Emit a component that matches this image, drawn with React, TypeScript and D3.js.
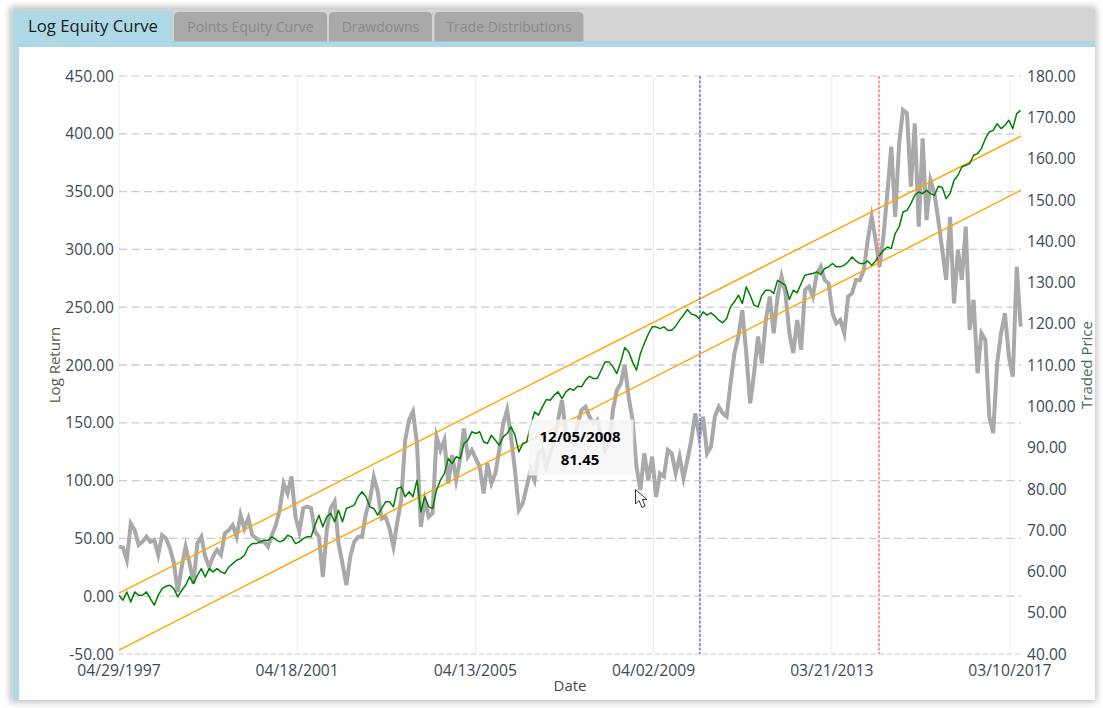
import React from "react";
import * as d3 from "d3";

const tradeStep = 22;
const tickTrades = [0, 1000, 2000, 3000, 4000, 5000];
const dateLabels = ["04/29/1997", "04/18/2001", "04/13/2005", "04/02/2009", "03/21/2013", "03/10/2017"];
const logTicks = [-50, 0, 50, 100, 150, 200, 250, 300, 350, 400, 450];
const priceTicks = [40, 50, 60, 70, 80, 90, 100, 110, 120, 130, 140, 150, 160, 170, 180];
const tabs = ["Log Equity Curve", "Points Equity Curve", "Drawdowns", "Trade Distributions"];

const tradedPrice = [
  66.0, 65.8, 62.8, 71.6, 70.0, 66.4, 67.2, 68.4, 67.2, 67.6, 64.0, 68.8, 68.0, 65.6, 62.0, 55.1, 61.1, 66.0, 62.0, 57.1,
  66.8, 68.4, 63.6, 61.1, 63.6, 65.2, 64.0, 69.2, 70.0, 71.2, 68.4, 73.7, 70.4, 72.9, 68.8, 68.0, 67.2, 67.2, 66.0, 68.8,
  71.2, 74.9, 81.3, 78.9, 83.0, 73.3, 69.6, 75.3,
  75.7, 75.3, 69.6, 68.4, 58.7, 70.0, 75.3, 76.9, 66.8, 61.9, 56.7, 63.6, 67.2, 68.4, 68.4, 74.1, 77.3, 82.9, 79.3, 72.8,
  73.2, 70.4, 66.0, 72.0, 77.3, 91.8, 96.7, 98.7, 91.0, 70.8, 77.3, 73.2, 74.1, 92.6, 89.4, 91.8, 81.3, 88.2, 82.1, 87.0,
  94.6, 87.8, 89.4, 87.4, 85.4, 78.9, 86.2,
  81.3, 83.7, 89.4, 95.8, 99.1, 92.6, 84.5, 74.9, 76.5, 80.5, 84.5, 82.1, 88.6, 89.4, 85.4, 88.6, 91.8, 96.7, 101.5, 93.4,
  91.8, 91.0, 95.8, 99.1, 99.9, 97.5, 95.8, 96.7, 92.6, 89.4, 91.0, 99.1, 103.9, 105.5, 110.0, 102.3, 96.7, 85.4, 79.7, 88.6,
  82.1, 87.8, 78.1, 83.7, 83.0, 89.4,
  88.6, 83.8, 87.8, 82.6, 87.0, 91.9, 98.3, 92.7, 97.5, 88.6, 90.2, 97.5, 99.9, 98.3, 97.5, 105.6, 112.9, 116.9, 123.3, 112.9,
  100.7, 108.0, 116.9, 110.4, 120.9, 126.6, 117.7, 126.6, 131.4, 127.4, 117.7, 112.9, 120.9, 113.7, 128.2, 129.0, 126.6, 132.2, 133.8, 130.6,
  129.8, 122.5, 120.1, 120.9, 117.7, 126.6,
  127.4, 130.6, 130.6, 133.0, 140.3, 145.9, 140.3, 133.8, 141.1, 151.6, 162.9, 145.9, 163.7, 171.8, 171.0, 153.2, 168.5, 143.5, 164.9, 145.1,
  154.8, 151.6, 145.1, 137.9, 130.6, 145.9, 124.9, 137.9, 130.6, 143.5, 118.5, 125.8, 108.0, 117.7, 116.1, 97.5, 93.5, 110.4, 117.7, 122.5,
  112.0, 107.2, 133.8, 119.3,
];

const logReturn = [
  0.8, -3.5, 3.7, -4.9, 3.7, 0.8, 0.8, 3.7, -2.1, -7.8, 0.8, 6.6, 8.6, 9.5, 6.6, -0.6, 5.1, 9.5, 16.7, 10.9,
  18.1, 23.9, 16.7, 23.9, 21.0, 23.9, 21.0, 19.6, 25.3, 28.2, 31.1, 32.5, 35.4, 42.6, 45.5, 45.5, 47.0, 48.4, 48.4, 51.3,
  49.0, 47.0, 48.4, 52.7, 51.3, 45.5, 47.0, 49.8,
  51.4, 51.4, 61.5, 70.1, 60.0, 68.7, 71.6, 64.4, 74.4, 64.4, 75.9, 77.3, 78.8, 86.0, 90.3, 86.0, 77.3, 75.9, 70.1, 75.9,
  81.7, 81.7, 77.3, 93.2, 94.6, 86.0, 90.3, 86.0, 100.4, 73.0, 86.0, 77.3, 75.9, 91.7, 100.4, 106.2, 119.1, 114.8, 120.6, 119.1,
  132.1, 135.0, 142.2, 140.8, 142.2, 133.6, 132.1,
  139.3, 134.9, 130.6, 137.8, 140.7, 146.5, 139.3, 124.8, 132.1, 133.5, 147.9, 159.4, 156.6, 163.8, 170.1, 169.5, 173.9, 176.8, 171.0, 176.8,
  179.6, 178.2, 181.7, 181.1, 186.8, 190.3, 188.3, 188.3, 195.5, 202.7, 202.7, 198.4, 192.6, 202.7, 215.1, 211.4, 202.7, 195.5, 209.9, 218.6,
  226.6, 233.0, 233.0, 231.5, 233.0, 230.1,
  230.1, 233.6, 238.8, 243.1, 248.0, 244.0, 243.1, 240.2, 246.0, 243.1, 245.1, 242.3, 238.8, 236.5, 240.2, 250.3, 254.7, 260.4, 253.2, 267.6,
  260.4, 251.8, 250.3, 260.4, 264.7, 264.7, 261.9, 273.4, 271.1, 269.1, 256.7, 264.7, 262.4, 270.5, 277.7, 278.6, 279.2, 280.6, 278.3, 283.5,
  284.9, 287.8, 284.9, 284.9, 286.4, 289.3,
  293.5, 290.0, 287.7, 287.7, 290.0, 286.3, 290.0, 294.9, 299.2, 302.1, 300.7, 313.7, 319.4, 332.4, 333.8, 339.6, 346.8, 349.7, 348.3, 351.1,
  348.3, 346.8, 354.6, 353.5, 343.9, 348.3, 359.8, 364.1, 371.3, 372.8, 374.2, 381.4, 382.9, 387.2, 395.8, 401.6, 403.0, 408.8, 404.5, 407.4,
  411.7, 404.5, 417.5, 420.3,
];

const channelTrades = [0, 5062];
const upperChannel = [2.6, 398];
const lowerChannel = [-46.7, 351.2];
const blueMarkerTrade = 3260;
const redMarkerTrade = 4265;
const tooltipDate = "12/05/2008";
const tooltipValue = "81.45";

const FONT = "'Open Sans', 'Noto Sans', sans-serif";
const W = 1103;
const H = 708;
const L = 119;
const R = 1021;
const T = 76;
const B = 654;

const x = d3.scaleLinear().domain([0, 5062]).range([L, R]);
const yLog = d3.scaleLinear().domain([-50, 450]).range([B, T]);
const yPrice = d3.scaleLinear().domain([40, 180]).range([B, T]);

const priceLine = d3.line<number>().x((_, i) => x(i * tradeStep)).y((d) => yPrice(d));
const logLine = d3.line<number>().x((_, i) => x(i * tradeStep)).y((d) => yLog(d));
const channel = d3.line<number>().x((_, i) => x(channelTrades[i])).y((d) => yLog(d));

const tabBoxes = [
  { x: 12.5, w: 160 },
  { x: 174, w: 153 },
  { x: 329, w: 103 },
  { x: 434.5, w: 149 },
];

function tabPath(px: number, w: number, top: number, bottom: number) {
  const r = 5;
  return `M${px},${bottom}V${top + r}Q${px},${top} ${px + r},${top}H${px + w - r}Q${px + w},${top} ${px + w},${top + r}V${bottom}Z`;
}

export default function App() {
  return (
    <svg width={W} height={H} style={{ position: "absolute", left: 0, top: 0, display: "block" }} fontFamily={FONT}>
      <defs>
        <filter id="cardShadow" x="-3%" y="-3%" width="106%" height="106%">
          <feGaussianBlur stdDeviation="3.5" />
        </filter>
      </defs>
      <rect x={10} y={7} width={1086} height={695} fill="#8a8a8a" opacity={0.6} filter="url(#cardShadow)" />
      <rect x={12.5} y={9} width={1082.5} height={691} fill="#fff" />
      <rect x={12.5} y={9} width={1082.5} height={33} fill="#d3d3d3" />
      <rect x={12.5} y={41} width={1082.5} height={6} fill="#add8e6" />
      <rect x={12.5} y={41} width={6.5} height={659} fill="#add8e6" />
      {tabs.map((t, i) => (
        <g key={t}>
          <path
            d={tabPath(tabBoxes[i].x, tabBoxes[i].w, i === 0 ? 10.5 : 12, 41.5)}
            fill={i === 0 ? "#add8e6" : "#a9a9a9"}
          />
          <text
            x={i === 0 ? 28 : tabBoxes[i].x + tabBoxes[i].w / 2}
            y={28}
            dominantBaseline="middle"
            textAnchor={i === 0 ? "start" : "middle"}
            fontSize={i === 0 ? 16.7 : 14}
            fill={i === 0 ? "#1a1a1a" : "#8a8a8a"}
          >
            {t}
          </text>
        </g>
      ))}

      {tickTrades.map((t) => (
        <line key={t} x1={x(t)} x2={x(t)} y1={T} y2={B} stroke="#eeeeee" strokeWidth={1} />
      ))}
      {logTicks.map((v) => (
        <line
          key={v}
          x1={L}
          x2={R}
          y1={yLog(v)}
          y2={yLog(v)}
          stroke={v === -50 || v === 450 ? "#dcdcdc" : "#cccccc"}
          strokeWidth={1.3}
          strokeDasharray={v === -50 ? "5,3" : "8,4.5"}
        />
      ))}

      <path d={priceLine(tradedPrice) ?? ""} fill="none" stroke="#a9a9a9" strokeWidth={4} strokeLinejoin="miter" strokeMiterlimit={6} />
      <path d={channel(upperChannel) ?? ""} fill="none" stroke="orange" strokeWidth={1.4} />
      <path d={channel(lowerChannel) ?? ""} fill="none" stroke="orange" strokeWidth={1.4} />
      <path d={logLine(logReturn) ?? ""} fill="none" stroke="green" strokeWidth={1.5} strokeLinejoin="round" />

      <line x1={x(blueMarkerTrade)} x2={x(blueMarkerTrade)} y1={T} y2={B} stroke="#6a6aff" strokeWidth={1.5} strokeDasharray="3,1.5" />
      <line x1={x(redMarkerTrade)} x2={x(redMarkerTrade)} y1={T} y2={B} stroke="#ff7a7a" strokeWidth={1.5} strokeDasharray="3,1.5" />

      {logTicks.map((v) => (
        <text key={v} x={114} y={yLog(v) + 1.5} textAnchor="end" dominantBaseline="middle" fontSize={15.6} fill="#3c4a58">
          {v.toFixed(2)}
        </text>
      ))}
      {priceTicks.map((v) => (
        <text key={v} x={1027} y={yPrice(v) + 1.5} dominantBaseline="middle" fontSize={15.6} fill="#3c4a58">
          {v.toFixed(2)}
        </text>
      ))}
      {tickTrades.map((t, i) => (
        <text key={t} x={x(t)} y={671.5} textAnchor="middle" dominantBaseline="middle" fontSize={15.7} fill="#3c4a58">
          {dateLabels[i]}
        </text>
      ))}
      <text x={570} y={687} textAnchor="middle" dominantBaseline="middle" fontSize={15} fill="#4a4a4a">
        Date
      </text>
      <text
        transform="translate(56,365) rotate(-90)"
        textAnchor="middle"
        dominantBaseline="middle"
        fontSize={15}
        fill="#5a5a4a"
      >
        Log Return
      </text>
      <text
        transform="translate(1088,365) rotate(-90)"
        textAnchor="middle"
        dominantBaseline="middle"
        fontSize={15}
        fill="#4a6a5a"
      >
        Traded Price
      </text>

      <rect x={528.5} y={419.5} width={105} height={56} fill="#f6f6f6" fillOpacity={0.86} />
      <text x={580} y={438} textAnchor="middle" dominantBaseline="middle" fontSize={15} fontWeight={700} fill="#000">
        {tooltipDate}
      </text>
      <text x={580} y={461} textAnchor="middle" dominantBaseline="middle" fontSize={15} fontWeight={700} fill="#000">
        {tooltipValue}
      </text>

      <path
        d="M635.5,489.5 V504 L639,500.5 L642,507.5 L645,506 L642.5,499.5 L647,499.5 Z"
        fill="#fff"
        stroke="#333"
        strokeWidth={1}
      />
    </svg>
  );
}
